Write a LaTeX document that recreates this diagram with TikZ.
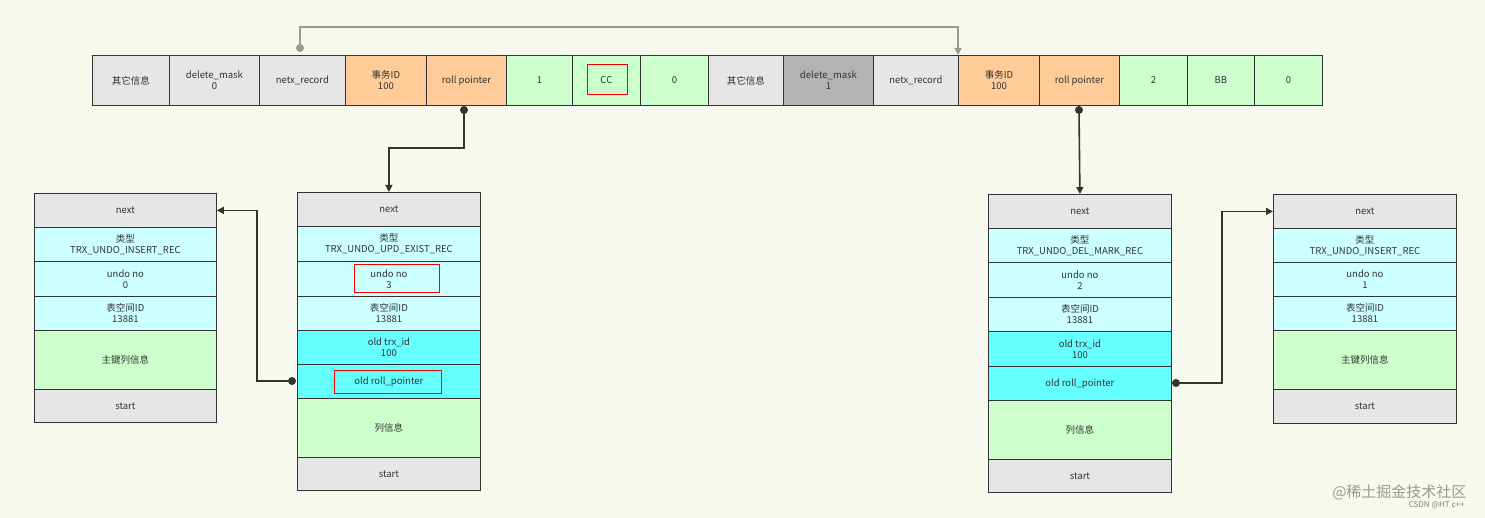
\documentclass[tikz,border=0pt]{standalone}
\usepackage{fontspec}
\setmainfont{Noto Sans CJK SC}
\usetikzlibrary{arrows.meta}
\definecolor{bg}{HTML}{F7F9EE}
\definecolor{cg}{HTML}{E6E6E6}
\definecolor{cd}{HTML}{B3B3B3}
\definecolor{co}{HTML}{FFCC99}
\definecolor{cn}{HTML}{CCFFCC}
\definecolor{cl}{HTML}{CCFFFF}
\definecolor{cc}{HTML}{66FFFF}
\definecolor{ln}{HTML}{333333}
\definecolor{lg}{HTML}{999999}
\tikzset{
 cell/.style={draw=ln,line width=0.8pt,anchor=north west,inner sep=0pt,align=center,font=\fontsize{9.5}{11}\selectfont,text=ln},
 redbox/.style={draw=red,line width=0.8pt},
 conn/.style={draw=ln,line width=1.6pt,-{Triangle[length=7pt,width=7pt]}},
 gconn/.style={draw=lg,line width=1.6pt,-{Triangle[length=7pt,width=7pt]}},
}
\newcommand{\cellbox}[7]{% name, x1, y1, x2, y2, color, text
 \node[cell,fill=#6,minimum width=#4pt-#2pt,minimum height=#5pt-#3pt] (#1) at (#2pt,-#3pt) {#7};}
\begin{document}
\begin{tikzpicture}[x=1pt,y=1pt]
\fill[bg] (0,0) rectangle (1485,-518);
\useasboundingbox (0,0) rectangle (1485,-518);
% top row
\cellbox{t1}{92}{55}{169}{105}{cg}{其它信息}
\cellbox{t2}{169}{55}{259}{105}{cg}{delete\_mask\\0}
\cellbox{t3}{259}{55}{345}{105}{cg}{netx\_record}
\cellbox{t4}{345}{55}{426}{105}{co}{事务ID\\100}
\cellbox{t5}{426}{55}{506}{105}{co}{roll pointer}
\cellbox{t6}{506}{55}{572}{105}{cn}{1}
\cellbox{t7}{572}{55}{640}{105}{cn}{CC}
\cellbox{t8}{640}{55}{708}{105}{cn}{0}
\cellbox{t9}{708}{55}{783}{105}{cg}{其它信息}
\cellbox{t10}{783}{55}{873}{105}{cd}{delete\_mask\\1}
\cellbox{t11}{873}{55}{958}{105}{cg}{netx\_record}
\cellbox{t12}{958}{55}{1039}{105}{co}{事务ID\\100}
\cellbox{t13}{1039}{55}{1119}{105}{co}{roll pointer}
\cellbox{t14}{1119}{55}{1187}{105}{cn}{2}
\cellbox{t15}{1187}{55}{1254}{105}{cn}{BB}
\cellbox{t16}{1254}{55}{1322}{105}{cn}{0}
\node[redbox,minimum width=40pt,minimum height=30pt,inner sep=0pt] (rcc) at (607,-79) {};
% box A
\cellbox{a1}{34}{193}{216}{227}{cg}{next}
\cellbox{a2}{34}{227}{216}{261}{cl}{类型\\TRX\_UNDO\_INSERT\_REC}
\cellbox{a3}{34}{261}{216}{296}{cl}{undo no\\0}
\cellbox{a4}{34}{296}{216}{330}{cl}{表空间ID\\13881}
\cellbox{a5}{34}{330}{216}{389}{cn}{主键列信息}
\cellbox{a6}{34}{389}{216}{422}{cg}{start}
% box B
\cellbox{b1}{297}{192}{480}{226}{cg}{next}
\cellbox{b2}{297}{226}{480}{261}{cl}{类型\\TRX\_UNDO\_UPD\_EXIST\_REC}
\cellbox{b3}{297}{261}{480}{296}{cl}{undo no\\3}
\cellbox{b4}{297}{296}{480}{330}{cl}{表空间ID\\13881}
\cellbox{b5}{297}{330}{480}{364}{cc}{old trx\_id\\100}
\cellbox{b6}{297}{364}{480}{398}{cc}{old roll\_pointer}
\cellbox{b7}{297}{398}{480}{457}{cn}{列信息}
\cellbox{b8}{297}{457}{480}{490}{cg}{start}
\node[redbox,minimum width=85pt,minimum height=28pt,inner sep=0pt] (rb3) at (396.5,-278) {};
\node[redbox,minimum width=107pt,minimum height=23pt,inner sep=0pt] (rb6) at (387.5,-381.5) {};
% box C
\cellbox{c1}{988}{194}{1171}{228}{cg}{next}
\cellbox{c2}{988}{228}{1171}{262}{cl}{类型\\TRX\_UNDO\_DEL\_MARK\_REC}
\cellbox{c3}{988}{262}{1171}{297}{cl}{undo no\\2}
\cellbox{c4}{988}{297}{1171}{331}{cl}{表空间ID\\13881}
\cellbox{c5}{988}{331}{1171}{366}{cc}{old trx\_id\\100}
\cellbox{c6}{988}{366}{1171}{400}{cc}{old roll\_pointer}
\cellbox{c7}{988}{400}{1171}{459}{cn}{列信息}
\cellbox{c8}{988}{459}{1171}{492}{cg}{start}
% box D
\cellbox{d1}{1273}{194}{1456}{228}{cg}{next}
\cellbox{d2}{1273}{228}{1456}{262}{cl}{类型\\TRX\_UNDO\_INSERT\_REC}
\cellbox{d3}{1273}{262}{1456}{296}{cl}{undo no\\1}
\cellbox{d4}{1273}{296}{1456}{330}{cl}{表空间ID\\13881}
\cellbox{d5}{1273}{330}{1456}{389}{cn}{主键列信息}
\cellbox{d6}{1273}{389}{1456}{423}{cg}{start}
% connectors
\coordinate (p1) at (300,-48);
\fill[lg] (p1) circle (4pt);
\draw[gconn] (p1) -- (300,-27) -| (t12.north west);
\coordinate (p2) at (464,-110);
\fill[ln] (p2) circle (4pt);
\draw[conn] (p2) -- (464,-148) -| (b1.north);
\coordinate (p3) at (1079,-110);
\fill[ln] (p3) circle (4pt);
\draw[conn] (p3) -- (c1.north);
\coordinate (p4) at (292,-381);
\fill[ln] (p4) circle (4pt);
\draw[conn] (p4) -- (257,-381) |- (a1.east);
\coordinate (p5) at (1176,-383);
\fill[ln] (p5) circle (4pt);
\draw[conn] (p5) -- (1222,-383) |- (d1.west);
% watermark
\node[text=black!40,font=\fontsize{15}{16}\selectfont,anchor=east] (wm) at (1470,-492) {@稀土掘金技术社区};
\node[text=black!50,font=\fontsize{8}{9}\selectfont,anchor=east] (wm2) at (1468,-505) {CSDN @HT c++};
\end{tikzpicture}
\end{document}
